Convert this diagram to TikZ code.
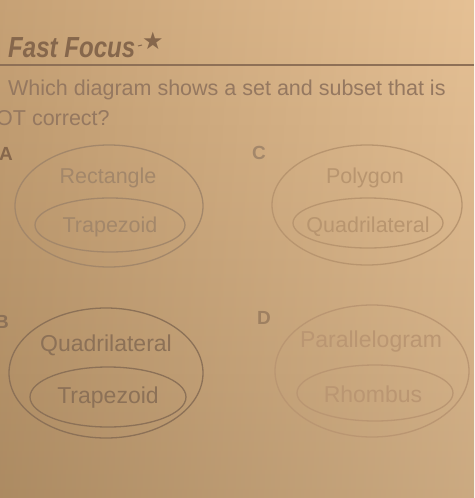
\documentclass[tikz,border=0pt]{standalone}
\usepackage{fontspec}
\setmainfont{Liberation Sans}
\newfontfamily\symfont{DejaVu Sans}
\usetikzlibrary{shapes.geometric}
\definecolor{bgtop}{HTML}{E2B886}
\definecolor{bgbot}{HTML}{C49E70}
\definecolor{headcol}{HTML}{86674C}
\definecolor{rulecol}{HTML}{8E7056}
\definecolor{qcol}{HTML}{957860}
\definecolor{acol}{HTML}{A3876A}
\definecolor{ccol}{HTML}{B8956F}
\definecolor{bcol}{HTML}{8C7157}
\definecolor{dcol}{HTML}{BA9672}
\tikzset{
  setoval/.style={draw, ellipse, inner sep=0pt, line width=1.3pt},
  lbl/.style={inner sep=0pt, font=\fontsize{21.5}{24}\selectfont},
  lblbig/.style={inner sep=0pt, font=\fontsize{23}{26}\selectfont},
  letter/.style={inner sep=0pt, anchor=base west, font=\bfseries\fontsize{19}{22}\selectfont},
  qtext/.style={inner sep=0pt, anchor=base west, text=qcol, font=\fontsize{21.5}{26}\selectfont}
}
\begin{document}
\begin{tikzpicture}[x=1pt,y=-1pt]
\useasboundingbox (0,0) rectangle (474,498);
\shade[top color=bgtop, bottom color=bgbot] (0,0) rectangle (474,498);
\shade[left color=black, right color=white, fill opacity=0.12] (0,0) rectangle (474,498);
% heading
\node[inner sep=0pt, anchor=base west, text=headcol] (head) at (8,57)
  {\scalebox{0.83}[1]{\bfseries\itshape\fontsize{29}{30}\selectfont Fast Focus}};
\node[inner sep=0pt, text=headcol, font=\symfont\fontsize{24}{24}\selectfont] (star) at (153,41) {★};
\draw[headcol, line width=1pt] (138,46) coordinate (d1) -- (142,45) coordinate (d2);
\draw[rulecol, line width=1.4pt] (0,65) coordinate (r1) -- (474,65) coordinate (r2);
% question
\node[qtext] (q1) at (8,95) {Which diagram shows a set and subset that is};
\node[qtext] (q2) at (-4,125) {OT correct?};
% A
\node[letter, text=headcol] (la) at (-1,160) {A};
\node[setoval, draw=acol, minimum width=188pt, minimum height=122pt] (aout) at (109,206) {};
\node[setoval, draw=acol, minimum width=150pt, minimum height=54pt] (ain) at (110,225) {};
\node[lbl, text=acol] (at1) at (108,178) {Rectangle};
\node[lbl, text=acol] (at2) at (110,227) {Trapezoid};
% C
\node[letter, text=acol] (lc) at (252,159) {C};
\node[setoval, draw=ccol, minimum width=190pt, minimum height=120pt] (cout) at (367,205) {};
\node[setoval, draw=ccol, minimum width=150pt, minimum height=50pt] (cin) at (368,223) {};
\node[lbl, text=ccol] (ct1) at (365,178) {Polygon};
\node[lbl, text=ccol] (ct2) at (368,227) {Quadrilateral};
% B
\node[letter, text=bcol] (lb) at (-5,328) {B};
\node[setoval, draw=bcol, minimum width=194pt, minimum height=130pt] (bout) at (106,373) {};
\node[setoval, draw=bcol, minimum width=156pt, minimum height=60pt] (bin) at (108,397) {};
\node[lblbig, text=bcol] (bt1) at (106,345) {Quadrilateral};
\node[lblbig, text=bcol] (bt2) at (108,398) {Trapezoid};
% D
\node[letter, text=dcol!85!black] (ld) at (257,324) {D};
\node[setoval, draw=dcol, minimum width=194pt, minimum height=132pt] (dout) at (372,371) {};
\node[setoval, draw=dcol, minimum width=156pt, minimum height=56pt] (din) at (375,393) {};
\node[lblbig, text=dcol] (dt1) at (371,342) {Parallelogram};
\node[lblbig, text=dcol] (dt2) at (373,394) {Rhombus};
\end{tikzpicture}
\end{document}
